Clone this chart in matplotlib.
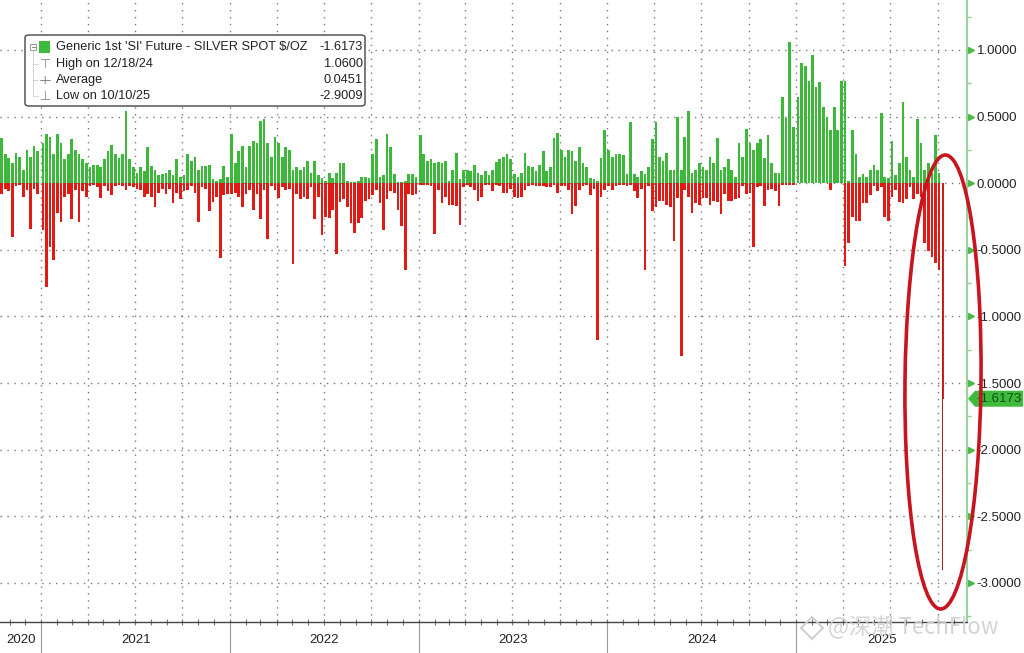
import matplotlib
matplotlib.use('Agg')
import matplotlib.pyplot as plt
import matplotlib.dates as mdates
import matplotlib.transforms as mtrans
from matplotlib.patches import Ellipse, FancyBboxPatch, Rectangle, Polygon
from matplotlib.ticker import MultipleLocator, FuncFormatter
import numpy as np
import pandas as pd

# weekly high (green) / low (red) of the futures-spot spread
pos_2020 = [0.34, 0.22, 0.19, 0.15, 0.23, 0.20, 0.10, 0.25, 0.20, 0.28, 0.24]
neg_2020 = [-0.08, -0.04, -0.06, -0.40, -0.02, -0.01, -0.10, -0.05, -0.34, -0.04, -0.08]

pos_2021 = [0.30, 0.37, 0.35, 0.22, 0.37, 0.30, 0.18, 0.22, 0.33, 0.25,
            0.22, 0.18, 0.15, 0.12, 0.14, 0.14, 0.12, 0.18, 0.24, 0.29,
            0.22, 0.19, 0.22, 0.54, 0.18, 0.12, 0.08, 0.12, 0.09, 0.27,
            0.13, 0.10, 0.06, 0.07, 0.08, 0.10, 0.06, 0.18, 0.05, 0.06,
            0.22, 0.17, 0.20, 0.10, 0.13, 0.13, 0.14, 0.03, 0.02, 0.03,
            0.13, 0.05]
neg_2021 = [-0.35, -0.78, -0.48, -0.58, -0.22, -0.29, -0.10, -0.08, -0.27, -0.05,
            -0.29, -0.06, -0.10, -0.02, -0.01, -0.03, -0.11, -0.02, -0.06, -0.09,
            -0.02, -0.01, -0.02, -0.05, -0.02, -0.03, -0.04, -0.05, -0.10, -0.08,
            -0.10, -0.18, -0.07, -0.04, -0.08, -0.04, -0.15, -0.07, -0.12, -0.06,
            -0.05, -0.02, -0.07, -0.29, -0.03, -0.04, -0.21, -0.14, -0.10, -0.56,
            -0.09, -0.08]

pos_2022 = [0.37, 0.15, 0.24, 0.28, 0.12, 0.28, 0.32, 0.30, 0.47, 0.48,
            0.30, 0.20, 0.35, 0.30, 0.20, 0.27, 0.25, 0.10, 0.12, 0.10,
            0.12, 0.17, 0.08, 0.17, 0.06, 0.04, 0.02, 0.08, 0.04, 0.08,
            0.15, 0.15, 0.02, 0.01, 0.01, 0.02, 0.05, 0.05, 0.04, 0.22,
            0.33, 0.05, 0.06, 0.37, 0.27, 0.07, 0.01, 0.01, 0.02, 0.07,
            0.07, 0.05]
neg_2022 = [-0.08, -0.07, -0.10, -0.18, -0.08, -0.05, -0.20, -0.08, -0.27, -0.05,
            -0.42, -0.02, -0.05, -0.11, -0.03, -0.05, -0.04, -0.61, -0.08, -0.12,
            -0.10, -0.12, -0.03, -0.27, -0.10, -0.39, -0.25, -0.26, -0.20, -0.53,
            -0.14, -0.12, -0.18, -0.30, -0.37, -0.30, -0.26, -0.13, -0.12, -0.09,
            -0.05, -0.15, -0.35, -0.12, -0.06, -0.07, -0.20, -0.32, -0.65, -0.08,
            -0.09, -0.08]

pos_2023 = [0.36, 0.22, 0.17, 0.18, 0.15, 0.16, 0.15, 0.17, 0.02, 0.10,
            0.23, 0.03, 0.10, 0.10, 0.09, 0.14, 0.08, 0.06, 0.09, 0.06,
            0.10, 0.16, 0.18, 0.20, 0.22, 0.18, 0.07, 0.05, 0.08, 0.23,
            0.13, 0.12, 0.09, 0.14, 0.24, 0.09, 0.12, 0.34, 0.38, 0.25,
            0.20, 0.25, 0.24, 0.17, 0.27, 0.15, 0.12, 0.04, 0.03, 0.02,
            0.19, 0.40]
neg_2023 = [-0.01, -0.01, -0.01, -0.02, -0.38, -0.05, -0.15, -0.10, -0.16, -0.16,
            -0.17, -0.31, -0.03, -0.01, -0.03, -0.05, -0.13, -0.10, -0.01, -0.01,
            -0.06, -0.01, -0.02, -0.07, -0.07, -0.04, -0.10, -0.11, -0.10, -0.05,
            -0.02, -0.01, -0.02, -0.02, -0.02, -0.03, -0.03, -0.01, -0.07, -0.02,
            -0.02, -0.05, -0.23, -0.17, -0.05, -0.02, -0.01, -0.09, -0.04, -1.18,
            -0.10, -0.05]

pos_2024 = [0.25, 0.20, 0.22, 0.22, 0.21, 0.07, 0.46, 0.07, 0.05, 0.09,
            0.07, 0.12, 0.33, 0.46, 0.20, 0.17, 0.23, 0.10, 0.10, 0.50,
            0.10, 0.35, 0.54, 0.08, 0.10, 0.15, 0.12, 0.10, 0.20, 0.15,
            0.34, 0.10, 0.12, 0.18, 0.10, 0.05, 0.30, 0.20, 0.41, 0.30,
            0.25, 0.30, 0.33, 0.19, 0.36, 0.15, 0.08, 0.08, 0.65, 0.49,
            1.06, 0.42]
neg_2024 = [-0.02, -0.05, -0.02, -0.01, -0.01, -0.02, -0.01, -0.06, -0.11, -0.04,
            -0.65, -0.02, -0.21, -0.18, -0.13, -0.13, -0.16, -0.18, -0.43, -0.11,
            -1.30, -0.05, -0.10, -0.22, -0.15, -0.16, -0.11, -0.11, -0.16, -0.13,
            -0.14, -0.23, -0.08, -0.13, -0.13, -0.12, -0.11, -0.02, -0.08, -0.07,
            -0.48, -0.03, -0.02, -0.17, -0.05, -0.04, -0.06, -0.17, -0.01, -0.01,
            -0.01, -0.01]

pos_2025 = [0.65, 0.90, 0.88, 0.77, 0.96, 0.72, 0.76, 0.57, 0.50, 0.40,
            0.57, 0.40, 0.77, 0.77, 0.02, 0.40, 0.22, 0.05, 0.07, 0.05,
            0.10, 0.14, 0.10, 0.53, 0.05, 0.04, 0.32, 0.06, 0.15, 0.61,
            0.20, 0.10, 0.05, 0.48, 0.30, 0.10, 0.15, 0.08, 0.36, 0.08]
neg_2025 = [0, 0, 0, 0, 0, 0, 0, 0, 0, -0.05,
            0, 0, 0, -0.62, -0.45, -0.25, -0.28, -0.28, -0.15, -0.15,
            -0.09, -0.02, -0.06, -0.03, -0.25, -0.28, -0.10, -0.05, -0.14, -0.15,
            -0.12, -0.03, -0.12, -0.08, -0.10, -0.45, -0.51, -0.55, -0.60, -0.65]

week_starts = {'2020-10-16': (pos_2020, neg_2020), '2021-01-04': (pos_2021, neg_2021),
               '2022-01-04': (pos_2022, neg_2022), '2023-01-04': (pos_2023, neg_2023),
               '2024-01-04': (pos_2024, neg_2024), '2025-01-04': (pos_2025, neg_2025)}

# final daily prints
last_days = ['2025-10-10', '2025-10-13']
last_vals = [-2.9009, -1.6173]

legend_rows = ["Generic 1st 'SI' Future - SILVER SPOT $/OZ", 'High on 12/18/24', 'Average', 'Low on 10/10/25']
legend_vals = ['-1.6173', '1.0600', '0.0451', '-2.9009']
years = [2020, 2021, 2022, 2023, 2024, 2025]

GREEN = '#3db83a'
RED = '#e01a14'
DKRED = '#a8221e'
AXGREEN = '#8fd08f'
FONT = 'Liberation Sans'

W, H = 1024, 653
fig = plt.figure(figsize=(W / 100, H / 100), dpi=100)
ax = fig.add_axes([0, 31 / H, 967 / W, 622 / H])


def fx(x, y):
    return x / W, 1 - y / H


for start, (pos, neg) in week_starts.items():
    d = pd.date_range(start, periods=len(pos), freq='7D')
    ax.bar(d, pos, width=5.2, color=GREEN, linewidth=0, zorder=3)
    ax.bar(d, neg, width=5.2, color=RED, linewidth=0, zorder=3)

ld = pd.to_datetime(last_days)
ax.bar(ld[0], last_vals[0], width=1.3, color=DKRED, linewidth=0, zorder=4)
ax.bar(ld[1], last_vals[1], width=2.2, color=RED, linewidth=0, zorder=5)

xmin, xmax = pd.Timestamp('2020-10-13'), pd.Timestamp('2025-11-27')
ax.set_xlim(xmin, xmax)
ax.set_ylim(-3.293, 1.375)

# grid
dots = (0, (1, 4))
ax.xaxis.set_major_locator(mdates.MonthLocator(bymonth=[1, 4, 7, 10]))
ax.xaxis.set_minor_locator(mdates.MonthLocator())
ax.xaxis.set_major_formatter(FuncFormatter(lambda v, p: ''))
ax.grid(True, which='major', color='#777777', linestyle=dots, linewidth=1.0, zorder=0)
ax.tick_params(axis='x', which='both', direction='inout', length=5, color='#777', width=0.8)

ax.yaxis.tick_right()
ax.yaxis.set_major_locator(MultipleLocator(0.5))
ax.yaxis.set_minor_locator(MultipleLocator(0.25))
ax.yaxis.set_major_formatter(FuncFormatter(lambda v, p: '0.0000' if abs(v) < 1e-9 else f'{v:.4f}'))
ax.tick_params(axis='y', which='major', length=0, pad=7, labelsize=9.5, labelcolor='#222')
ax.tick_params(axis='y', which='minor', length=3, color=AXGREEN, width=1)
for lb in ax.get_yticklabels():
    lb.set_fontfamily(FONT)

for s in ['left', 'top']:
    ax.spines[s].set_visible(False)
ax.spines['right'].set_color(AXGREEN)
ax.spines['right'].set_linewidth(1.3)
ax.spines['bottom'].set_color('#444')
ax.spines['bottom'].set_linewidth(1)

# green arrow ticks on the right axis
tri = mtrans.offset_copy(mtrans.blended_transform_factory(ax.transAxes, ax.transData), fig=fig, x=4, units='dots')
yt = np.arange(-3.0, 1.01, 0.5)
ax.plot(np.ones(len(yt)), yt, linestyle='none', marker='>', ms=5, color='#4cb84c', transform=tri, clip_on=False)

# year bands under the axis
xb = mdates.date2num(xmin)
xe = mdates.date2num(xmax)
sep = mtrans.blended_transform_factory(ax.transData, ax.transAxes)
for y in years:
    a = max(mdates.date2num(pd.Timestamp(f'{y}-01-01')), xb)
    b = min(mdates.date2num(pd.Timestamp(f'{y + 1}-01-01')), xe)
    if y > years[0]:
        ax.plot([a, a], [0, -31 / 622], color='#999', lw=0.8, transform=sep, clip_on=False)
    ax.text((a + b) / 2, -18 / 622, str(y), transform=sep, ha='center', va='center',
            fontsize=9.5, color='#222', family=FONT)

# current value tag
yd = ax.transData.transform((0, last_vals[1]))[1]
xd = ax.transAxes.transform((1, 0))[0]
tag = Polygon([(xd + 1, yd), (xd + 8, yd + 8), (xd + 56, yd + 8), (xd + 56, yd - 8), (xd + 8, yd - 8)],
              closed=True, fc='#3dbb3d', ec='none', transform=mtrans.IdentityTransform(), zorder=6)
fig.add_artist(tag)
fig.text((xd + 9) / W, yd / H, legend_vals[0], fontsize=9.5, family=FONT, color='#124d14',
         ha='left', va='center', zorder=7)

# legend box
fig.add_artist(FancyBboxPatch(fx(25, 106), 340 / W, 71 / H, boxstyle='round,pad=0,rounding_size=0.004',
                              transform=fig.transFigure, fc='white', ec='#444', lw=1, zorder=8))
row_y = [47, 64, 80, 96]
fig.add_artist(Rectangle(fx(30, 50), 6 / W, 6 / H, transform=fig.transFigure, fc='white', ec='#999', lw=0.7, zorder=9))
fig.add_artist(plt.Line2D([31.5 / W, 34.5 / W], [1 - 47 / H] * 2, transform=fig.transFigure, color='#888', lw=0.7, zorder=9))
fig.add_artist(plt.Line2D([33 / W] * 2, [1 - 51 / H, 1 - 96 / H], transform=fig.transFigure, color='#aaa', lw=0.7,
                          linestyle=(0, (1, 1)), zorder=9))
for ry in row_y[1:]:
    fig.add_artist(plt.Line2D([33 / W, 38 / W], [1 - ry / H] * 2, transform=fig.transFigure, color='#aaa', lw=0.7,
                              linestyle=(0, (1, 1)), zorder=9))
fig.add_artist(Rectangle(fx(39, 53), 11 / W, 12 / H, transform=fig.transFigure, fc='#3dbb3d', ec='none', zorder=9))
icons = ['', '⊤', '+', '⊥']
for i, (name, val) in enumerate(zip(legend_rows, legend_vals)):
    x0, y0 = fx(56, row_y[i])
    fig.text(x0, y0, name, fontsize=9.2, family=FONT, color='#222', va='center', ha='left', zorder=10)
    fig.text(fx(363, 0)[0], y0, val, fontsize=9.2, family=FONT, color='#222', va='center', ha='right', zorder=10)
    if icons[i]:
        fig.text(fx(45, 0)[0], y0, icons[i], fontsize=9, color='#888', va='center', ha='center', zorder=10)
fig.add_artist(plt.Line2D([40 / W, 50 / W], [1 - 80 / H] * 2, transform=fig.transFigure, color='#999', lw=0.7, zorder=9))

# red ellipse highlight
fig.add_artist(Ellipse((943, H - 382), 76, 454, angle=-0.6, transform=mtrans.IdentityTransform(),
                       fill=False, ec='#c8141e', lw=2.6, zorder=20))

# watermark
fig.text(fx(828, 628)[0], fx(0, 628)[1], '@深潮 TechFlow', fontsize=16, color='#d0d0d0', alpha=0.9,
         family=['Noto Sans CJK SC', 'DejaVu Sans'], va='center', ha='left', zorder=21)
fig.add_artist(plt.Line2D([812 / W], [1 - 628 / H], marker='D', ms=11, mfc='none', mec='#d0d0d0',
                          mew=1.5, transform=fig.transFigure, zorder=21))

fig.savefig('out.png', dpi=100)
